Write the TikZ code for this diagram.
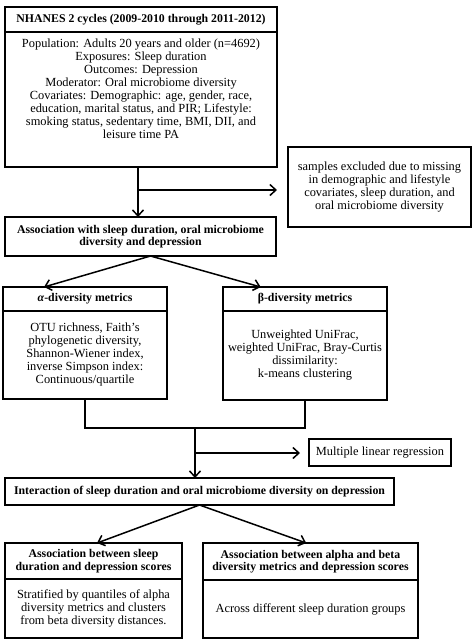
\documentclass[tikz,border=0pt]{standalone}
\usepackage{fontspec}
\setmainfont{Liberation Serif}
\usetikzlibrary{arrows.meta,calc}
\begin{document}
\begin{tikzpicture}[x=1pt,y=-1pt,
  box/.style={draw, line width=1.5pt, inner sep=0pt, outer sep=0pt},
  txt/.style={align=center, font=\fontsize{12.4}{13}\selectfont, inner sep=0pt},
  btxt/.style={align=center, font=\fontsize{11.8}{12.6}\selectfont\bfseries, inner sep=0pt},
  conn/.style={line width=1.5pt},
  arr/.style={line width=1.5pt, -{Straight Barb[length=6pt,width=11pt]}}]
\useasboundingbox (0,0) rectangle (474,641);
% top box
\node[box, btxt, minimum width=272pt, minimum height=25pt] (tophead) at (141,19.5) {NHANES 2 cycles (2009-2010 through 2011-2012)};
\node[box, minimum width=272pt, minimum height=135pt] (topbody) at (141,99.5) {};
\node[txt, anchor=north] (toptext) at (141,39) {Population: Adults 20 years and older (n=4692)\\
Exposures: Sleep duration\\
Outcomes: Depression\\
Moderator: Oral microbiome diversity\\
Covariates: Demographic: age, gender, race,\\
education, marital status, and PIR; Lifestyle:\\
smoking status, sedentary time, BMI, DII, and\\
leisure time PA};
% excluded
\node[box, txt, minimum width=183pt, minimum height=80pt] (excl) at (379.5,187) {samples excluded due to missing\\in demographic and lifestyle\\covariates, sleep duration, and\\oral microbiome diversity};
% association
\node[box, btxt, minimum width=271pt, minimum height=39pt] (assoc) at (140.5,236.5) {Association with sleep duration, oral microbiome\\diversity and depression};
% alpha
\node[box, btxt, minimum width=164pt, minimum height=24pt] (alphahead) at (85,299) {\textit{α}-diversity metrics};
\node[box, txt, minimum width=164pt, minimum height=88pt] (alphabody) at (85,355) {OTU richness, Faith's\\phylogenetic diversity,\\Shannon-Wiener index,\\inverse Simpson index:\\Continuous/quartile};
% beta
\node[box, btxt, minimum width=164pt, minimum height=24pt] (betahead) at (305,299) {β-diversity metrics};
\node[box, txt, minimum width=164pt, minimum height=89pt] (betabody) at (305,355.5) {Unweighted UniFrac,\\weighted UniFrac, Bray-Curtis\\dissimilarity:\\k-means clustering};
% MLR
\node[box, txt, minimum width=142pt, minimum height=27pt] (mlr) at (380,452.5) {Multiple linear regression};
% interaction
\node[box, btxt, minimum width=389pt, minimum height=27pt] (inter) at (199.5,491.5) {Interaction of sleep duration and oral microbiome diversity on depression};
% bottom left
\node[box, btxt, minimum width=177pt, minimum height=36pt] (blhead) at (93.5,561) {Association between sleep\\duration and depression scores};
\node[box, txt, minimum width=177pt, minimum height=59pt] (blbody) at (93.5,608.5) {Stratified by quantiles of alpha\\diversity metrics and clusters\\from beta diversity distances.};
% bottom right
\node[box, btxt, minimum width=215pt, minimum height=37pt] (brhead) at (310.5,561.5) {Association between alpha and beta\\diversity metrics and depression scores};
\node[box, txt, minimum width=215pt, minimum height=58pt] (brbody) at (310.5,609) {Across different sleep duration groups};
% connectors
\coordinate (t0) at ($(topbody.south)+(-3,0)$);
\draw[arr] (t0) -- (t0 |- assoc.north);
\coordinate (b1) at ($(t0)+(0,23)$);
\draw[arr, shorten >=11pt] (b1) -- (b1 -| excl.west);
\coordinate (a0) at ($(assoc.south)+(10,0)$);
\draw[arr] (a0) -- ($(alphahead.north west)!0.25!(alphahead.north east)$);
\draw[arr] (a0) -- ($(betahead.north west)!0.23!(betahead.north east)$);
\draw[conn] (alphabody.south) -- ++(0,29) coordinate (mleft) -| (betabody.south);
\coordinate (m) at ($(mleft)+(110,0)$);
\draw[arr] (m) -- (m |- inter.north);
\coordinate (b2) at ($(m)+(0,25)$);
\draw[arr, shorten >=9pt] (b2) -- (b2 -| mlr.west);
\coordinate (i0) at (inter.south);
\draw[arr] (i0) -- ($(blhead.north west)!0.52!(blhead.north east)$);
\draw[arr] (i0) -- ($(brhead.north west)!0.48!(brhead.north east)$);
\end{tikzpicture}
\end{document}
